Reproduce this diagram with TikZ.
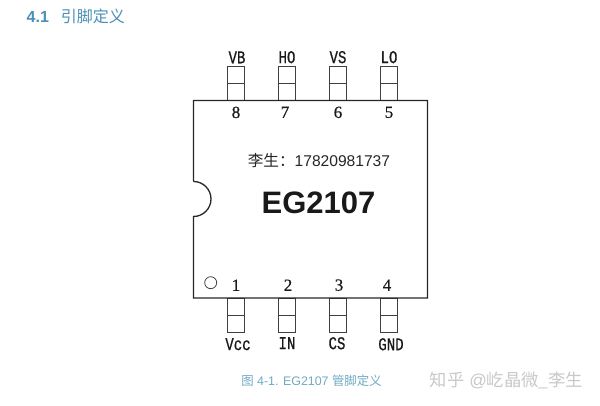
\documentclass[tikz,border=0pt]{standalone}
\usepackage{fontspec}
\usepackage{xcolor}
\setmainfont{Liberation Sans}
\newfontfamily\cjk{Noto Sans CJK SC}
\newfontfamily\pinfont[FakeStretch=0.78, FakeBold=0.6]{Liberation Mono}
\newfontfamily\numfont[FakeBold=0.5]{Liberation Serif}
\definecolor{headblue}{HTML}{4A8FB5}
\definecolor{capblue}{HTML}{6FA9C4}
\definecolor{markgrey}{HTML}{C8C8C8}
\usetikzlibrary{positioning}

\begin{document}
\begin{tikzpicture}[%
	x=1pt, y=1pt,
	pin/.style={draw=black!75, line width=0.8pt, outer sep=0pt, inner sep=0pt, minimum
		width=17pt, minimum height=34pt},
	pinname/.style={font=\pinfont\fontsize{18}{18}\selectfont, inner sep=0pt, text=black!90},
	pinnum/.style={font=\numfont\fontsize{17}{17}\selectfont, inner sep=0pt, text=black!90},
	body/.style={draw=black!85, line width=1.3pt},%
	divider/.style={draw=black!75, line width=0.8pt}%
	]
	\useasboundingbox (0, 0) rectangle (600, 406);
	%
	% Nodes
	%
	\node[pin] (P8) at (236, 322.5) {};
	\node[pin, right=34pt of P8] (P7) {};
	\node[pin, right=34pt of P7] (P6) {};
	\node[pin, right=34pt of P6] (P5) {};
	\node[pin] (P1) at (236, 91) {};
	\node[pin, right=34pt of P1] (P2) {};
	\node[pin, right=34pt of P2] (P3) {};
	\node[pin, right=34pt of P3] (P4) {};
	\node[pinname, above=3pt of P8, xshift=1pt] (VB) {VB};
	\node[pinname, above=3pt of P7] (HO) {HO};
	\node[pinname, above=3pt of P6] (VS) {VS};
	\node[pinname, above=3pt of P5] (LO) {LO};
	\node[pinname, below=6pt of P1, xshift=2pt] (VCC) {Vcc};
	\node[pinname, below=5pt of P2] (IN) {IN};
	\node[pinname, below=5pt of P3, xshift=-1pt] (CS) {CS};
	\node[pinname, below=6pt of P4, xshift=2pt] (GND) {GND};
	\node[pinnum, below=6pt of P8] (N8) {8};
	\node[pinnum, below=6pt of P7, xshift=-2pt] (N7) {7};
	\node[pinnum, below=6pt of P6] (N6) {6};
	\node[pinnum, below=6pt of P5] (N5) {5};
	\node[pinnum, above=7pt of P1] (N1) {1};
	\node[pinnum, above=7pt of P2, xshift=1pt] (N2) {2};
	\node[pinnum, above=7pt of P3, xshift=1pt] (N3) {3};
	\node[pinnum, above=7pt of P4, xshift=-2pt] (N4) {4};
	\node[draw=black!75, line width=0.8pt, circle, minimum size=12pt, inner sep=0pt] (DOT) at (210.7, 123.3) {};
	\node[font=\fontsize{15.6}{15.6}\selectfont, text=black!85] (PHONE) at (319, 245.5) {{\cjk 李生：}17820981737};
	\node[font=\bfseries\fontsize{31}{31}\selectfont, text=black!90] (CHIP) at (318.5, 203.5) {EG2107};
	\node[font=\fontsize{16}{16}\selectfont\bfseries, text=headblue, anchor=west, inner sep=0pt] (HEAD) at (26.5, 390) {4.1\hspace{12pt}{\cjk\mdseries 引脚定义}};
	\node[font=\fontsize{12.4}{12.4}\selectfont, text=capblue, inner sep=0pt] (CAPTION) at (311.5, 25.5) {{\cjk 图} 4-1. EG2107 {\cjk 管脚定义}};
	\node[font=\fontsize{17.3}{17.3}\selectfont, text=markgrey, inner sep=0pt] (MARK) at (506.5, 25.5) {{\cjk 知乎} @{\cjk 屹晶微\_李生}};
	%
	% Package outline and pin dividers
	%
	\draw[body] (193.5, 224.5) -- (193.5, 305.5) -- (427.5, 305.5) -- (427.5, 108) -- (193.5, 108) -- (193.5, 189.5) arc (-90:90:17.5);
	\path[divider] (P8.west) edge (P8.east);
	\path[divider] (P7.west) edge (P7.east);
	\path[divider] (P6.west) edge (P6.east);
	\path[divider] (P5.west) edge (P5.east);
	\path[divider] (P1.west) edge (P1.east);
	\path[divider] (P2.west) edge (P2.east);
	\path[divider] (P3.west) edge (P3.east);
	\path[divider] (P4.west) edge (P4.east);
\end{tikzpicture}
\end{document}
